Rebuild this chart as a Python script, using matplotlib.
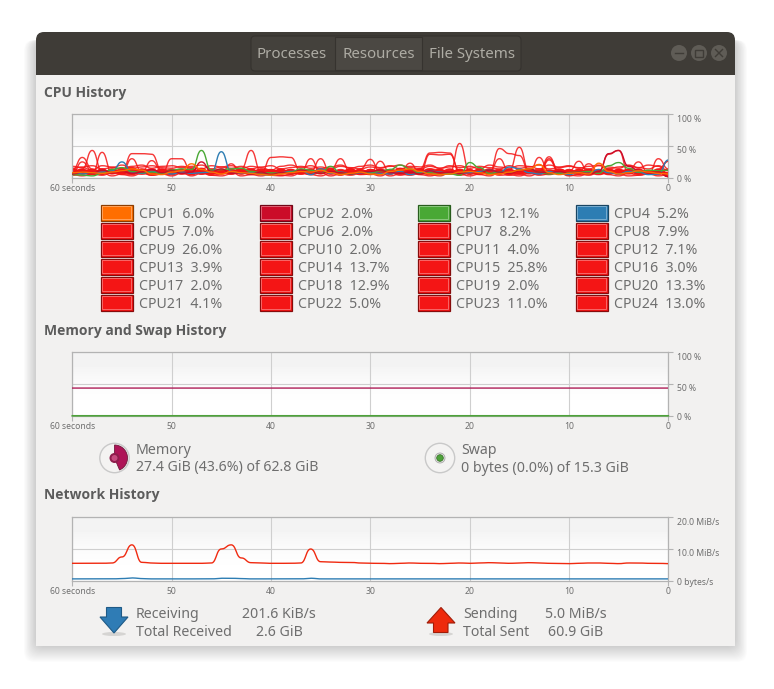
# system monitor resources tab

import numpy as np
import matplotlib
matplotlib.use("Agg")
import matplotlib.pyplot as plt
import matplotlib.transforms as mtransforms
from matplotlib.patches import Circle, Ellipse, FancyBboxPatch, Polygon, Rectangle, Wedge

plt.rcParams["font.family"] = ["Noto Sans", "DejaVu Sans"]

seconds = np.arange(60, -1, -1)
time_ticks = [60, 50, 40, 30, 20, 10, 0]
time_labels = ["60 seconds", "50", "40", "30", "20", "10", "0"]
percent_ticks = [100, 50, 0]
percent_labels = ["100 %", "50 %", "0 %"]
net_ticks = [20, 10, 0]
net_labels = ["20.0 MiB/s", "10.0 MiB/s", "0 bytes/s"]

# one sample per second, oldest first
cpu1 = [8,9,8,7,9,11,14,12,6,5, 9,11,22,13,9,6,10,8,7,5, 4,6,8,10,9,12,8,5,7,9, 6,5,10,12,14,10,6,5,6,9, 10,8,5,6,9,12,14,21,8,5, 7,8,6,23,10,6,8,11,9,7, 6]
cpu2 = [6,9,7,12,8,10,7,9,13,8, 11,7,9,25,10,14,7,8,6,9, 5,8,7,12,9,7,10,8,6,9, 10,12,8,7,9,6,11,8,9,7, 10,8,12,9,7,11,14,9,8,10, 7,9,6,10,38,43,18,12,8,9, 2]
cpu3 = [5,4,3,7,13,16,10,8,9,7, 12,14,13,43,12,13,14,15,10,8, 8,7,9,14,12,7,18,8,6,9, 7,11,13,20,14,7,8,5,6,4, 24,16,7,9,8,12,14,9,6,7, 8,9,10,7,19,24,15,9,12,11, 12]
cpu4 = [7,6,8,9,11,25,9,7,10,8, 6,9,7,8,9,41,10,7,8,5, 4,8,10,12,5,14,7,9,6,8, 9,7,6,10,5,8,11,9,6,7, 8,10,12,9,17,14,8,6,10,7, 5,9,7,13,8,6,10,9,5,6, 28]
cpu5 = [12,32,14,8,9,6,10,13,8,7, 10,7,12,9,6,11,8,14,43,9, 7,10,6,12,9,13,8,5,11,7, 9,12,6,10,8,14,7,11,9,6, 10,13,7,9,12,48,10,6,9,12, 8,6,11,9,7,13,10,6,9,12, 7]
cpu6 = [9,14,43,10,7,12,16,9,6,11, 8,13,9,15,7,10,12,6,9,14, 10,7,13,9,30,8,11,6,14,9, 12,8,6,15,9,7,13,10,8,11, 6,9,14,7,10,12,8,11,33,8, 10,7,13,8,11,6,9,14,7,10, 2]
cpu7 = [14,10,7,40,8,11,15,7,12,9, 6,10,14,8,11,7,13,9,6,12, 8,14,7,10,11,6,12,30,9,7, 13,10,8,6,11,9,14,7,12,8, 9,6,11,13,8,7,10,14,9,6, 12,8,10,7,14,9,6,11,8,13, 8]
cpu8 = [7,11,9,6,14,10,38,38,37,12, 9,12,6,10,8,13,7,11,14,6, 11,8,12,7,9,14,6,10,13,8, 6,11,9,13,7,10,14,12,8,54, 10,7,13,6,11,8,12,9,7,14, 9,11,7,12,6,10,13,8,11,7, 8]
cpu9 = [10,6,12,9,7,15,11,8,13,6, 30,30,9,7,13,10,6,12,8,11, 7,13,9,6,10,8,14,7,11,12, 8,10,6,14,9,12,7,13,6,10, 12,8,9,46,38,35,10,7,12,9, 11,6,13,8,10,7,12,9,6,14, 26]
cpu10 = [13,8,6,11,10,7,13,9,6,12, 8,11,14,6,9,12,7,10,13,7, 32,33,32,10,6,12,8,13,9,7, 11,6,13,8,10,7,12,9,14,6, 9,12,7,10,6,13,8,32,10,7, 13,8,6,11,9,12,7,10,6,11, 2]
cpu11 = [6,12,9,13,7,10,8,12,6,14, 11,7,13,6,10,8,12,9,11,6, 9,12,7,11,8,13,6,10,7,14, 29,9,7,12,6,11,8,13,9,10, 7,14,6,11,9,7,12,10,8,13, 10,26,7,12,9,6,13,8,10,7, 4]
cpu12 = [11,7,13,6,12,9,7,14,10,8, 12,6,9,11,7,13,10,8,6,12, 13,9,6,12,10,30,7,11,8,6, 10,13,8,7,12,6,9,11,7,13, 6,11,9,12,7,10,13,6,11,8, 7,12,9,6,13,8,11,25,7,10, 7]
cpu13 = [8,13,6,10,12,7,11,6,9,13, 7,10,12,8,6,11,9,13,7,10, 6,11,8,13,7,10,9,12,6,8, 12,7,11,9,6,14,39,40,39,8, 11,6,10,7,13,9,6,12,8,10, 6,13,8,11,7,9,12,6,10,8, 4]
cpu14 = [10,9,7,14,6,11,8,13,7,10, 13,9,6,10,12,7,11,6,13,9, 12,6,10,8,13,7,11,9,14,6, 8,12,9,7,13,10,6,12,8,11, 7,10,13,8,6,12,9,7,11,13, 9,7,12,10,37,43,8,11,6,30, 14]
cpu15 = [13,6,10,8,12,9,6,11,14,7, 10,8,13,7,11,6,12,9,7,13, 6,10,12,8,7,11,14,6,9,12, 10,7,13,11,6,9,12,8,7,10, 13,6,8,12,10,7,11,6,28,9, 12,8,11,6,9,13,7,10,8,12, 26]
cpu16 = [7,25,11,6,13,8,30,10,7,12, 9,13,7,11,6,10,8,14,9,6, 11,7,9,13,6,12,8,10,7,11, 6,13,10,8,12,7,11,6,9,13, 8,11,7,10,13,6,9,12,7,10, 11,9,6,13,7,10,8,12,6,9, 3]
cpu17 = [9,12,8,11,7,13,6,10,27,11, 7,11,9,6,13,8,22,7,11,10, 8,12,6,10,13,7,9,11,6,13, 7,10,12,6,9,13,8,7,11,6, 12,9,7,11,6,10,13,8,6,12, 7,10,13,9,6,11,8,12,7,10, 2]
cpu18 = [6,10,13,7,9,12,8,6,11,7, 13,6,10,12,8,7,11,13,6,9, 10,13,7,9,6,12,8,11,7,10, 6,9,12,8,23,7,37,36,37,11, 6,12,8,10,7,13,9,6,12,8, 10,6,12,7,11,9,13,6,10,7, 13]
cpu19 = [11,8,6,12,10,7,13,9,7,11, 8,12,6,9,13,7,10,12,8,6, 12,7,11,6,9,13,7,8,12,10, 7,26,8,11,6,12,9,7,13,8, 12,7,10,30,8,6,11,9,7,12, 8,13,6,10,7,12,9,11,6,8, 2]
cpu20 = [7,13,10,6,11,8,12,7,9,13, 6,11,8,13,7,12,6,10,9,8, 7,10,13,6,11,8,12,7,9,6, 13,8,10,7,12,6,11,9,8,13, 7,9,12,6,10,8,13,7,30,11, 6,10,22,9,12,7,8,13,6,11, 13]
cpu21 = [18,16,12,19,17,14,18,20,15,18, 19,16,18,20,14,17,19,15,18,16, 12,18,20,16,19,14,17,20,15,18, 20,16,19,14,18,17,20,15,19,16, 18,14,20,17,15,19,18,14,20,17, 19,15,18,20,14,17,19,16,20,18, 4]
cpu22 = [4,7,5,8,3,6,5,9,4,6, 5,8,3,7,4,6,9,3,5,7, 4,3,6,8,5,3,7,4,9,5, 6,3,8,4,7,5,3,6,9,4, 7,5,3,8,4,6,3,7,5,8, 3,6,4,9,5,3,7,4,6,3, 5]
cpu23 = [15,17,19,14,16,20,15,17,19,16, 15,18,16,14,19,17,15,18,14,17, 19,14,16,18,15,17,14,18,16,14, 17,15,18,20,16,14,18,15,17,19, 15,18,16,14,19,15,17,20,14,16, 18,16,14,19,17,15,20,16,14,19, 11]
cpu24 = [5,3,6,4,8,5,3,7,4,6, 3,7,5,9,4,3,6,8,5,3, 6,4,3,7,5,8,3,6,4,7, 5,8,3,6,4,7,5,3,8,6, 3,6,8,4,5,3,7,4,6,9, 4,3,7,5,8,6,3,4,7,5, 13]

red_series = [cpu5, cpu6, cpu7, cpu8, cpu9, cpu10, cpu11, cpu12, cpu13, cpu14, cpu15, cpu16,
              cpu17, cpu18, cpu19, cpu20, cpu21, cpu22, cpu23, cpu24]

cpu_percent = ["6.0", "2.0", "12.1", "5.2", "7.0", "2.0", "8.2", "7.9", "26.0", "2.0", "4.0", "7.1",
               "3.9", "13.7", "25.8", "3.0", "2.0", "12.9", "2.0", "13.3", "4.1", "5.0", "11.0", "13.0"]

memory_used = [43.6] * 61
swap_used = [0.0] * 61

sending = [5.5,5.5,5.5,5.5,5.6,7.5,11.3,5.8,5.6,5.5, 5.5,5.5,5.5,5.5,5.6,10.0,11.3,7.2,5.7,5.6,
           5.5,5.5,5.5,5.6,10.0,6.0,5.9,5.8,5.8,5.6, 5.5,5.5,5.4,5.5,5.6,5.5,5.5,5.4,5.5,5.6,
           5.5,5.6,5.7,5.6,5.5,5.6,5.7,5.6,5.5,5.5, 5.4,5.5,5.6,5.6,5.5,5.4,5.6,5.6,5.5,5.5, 5.4]
receiving = [0.6,0.6,0.6,0.6,0.6,0.7,0.9,0.7,0.6,0.6, 0.6,0.6,0.6,0.6,0.6,0.8,0.8,0.7,0.6,0.6,
             0.6,0.6,0.6,0.6,0.8,0.6,0.6,0.6,0.6,0.6, 0.6,0.6,0.6,0.6,0.6,0.6,0.6,0.6,0.6,0.6,
             0.6,0.6,0.6,0.6,0.6,0.6,0.6,0.6,0.6,0.6, 0.6,0.6,0.6,0.6,0.6,0.6,0.6,0.6,0.6,0.6, 0.6]

ORANGE = "#ff6e00"
CRIMSON = "#cb0c29"
GREEN = "#49a835"
BLUE = "#2d7db3"
RED = "#f41515"
TEXT = "#6e6e6e"
cpu_colors = [ORANGE, CRIMSON, GREEN, BLUE] + [RED] * 20

W, H = 774, 689
FS = 10.2


def smooth(values):
	# bezier between samples with both control points half way across, as the applet does
	values = np.array(values, dtype=float)
	u = np.linspace(0, 1, 24, endpoint=False)
	across = 1.5 * (1 - u) ** 2 * u + 1.5 * (1 - u) * u ** 2 + u ** 3
	up = 3 * (1 - u) * u ** 2 + u ** 3
	xs, ys = [], []
	for i in range(len(values) - 1):
		xs.append(seconds[i] - across)
		ys.append(values[i] + (values[i + 1] - values[i]) * up)
	xs.append([seconds[-1]])
	ys.append([values[-1]])
	return np.concatenate(xs), np.concatenate(ys)


def graph(fig, top, labels, ticks, ymax):
	ax = fig.add_axes([72.3 / W, 1 - (top + 63.6) / H, 596 / W, 63.6 / H])
	ax.imshow([[0.95], [0.985], [1.0]], cmap="gray", vmin=0, vmax=1, aspect="auto",
		extent=[60, 0, 0, ymax], interpolation="bilinear", zorder=0)
	ax.set_xlim(60, 0)
	ax.set_ylim(0, ymax)
	ax.set_xticks(time_ticks, time_labels)
	ax.yaxis.tick_right()
	ax.set_yticks(ticks, labels)
	ax.grid(True, color="#cfcfcf", lw=0.8, zorder=1)
	ax.tick_params(axis="x", length=3.6, width=0.8, color="#b3b3b3", pad=0.8, labelsize=6.2, labelcolor=TEXT)
	ax.tick_params(axis="y", length=3.6, width=0.8, color="#b3b3b3", pad=2.5, labelsize=6.2, labelcolor=TEXT)
	for tick in ax.xaxis.get_major_ticks()[1:-1]:
		tick.tick1line.set_visible(False)
	# labels sit a little under their ticks in the applet
	for label, va, dy in zip(ax.get_yticklabels(), ["top", "top", "center"], [-1, 0, -2]):
		label.set_verticalalignment(va)
		label.set_transform(label.get_transform() + mtransforms.Affine2D().translate(0, dy))
	for spine in ax.spines.values():
		spine.set_color("#b3b3b3")
		spine.set_linewidth(0.9)
	return ax


def rounded(bg, x0, y0, x1, y1, r, **kw):
	bg.add_patch(FancyBboxPatch((x0 + r, y0 + r), x1 - x0 - 2 * r, y1 - y0 - 2 * r,
		boxstyle="round,pad=%f,rounding_size=%f" % (r, r), **kw))


fig = plt.figure(figsize=(W / 100, H / 100), dpi=100, facecolor="white")
bg = fig.add_axes([0, 0, 1, 1])
bg.set_xlim(0, W)
bg.set_ylim(H, 0)
bg.axis("off")

# window, shadow first
for grow in range(16, 0, -1):
	rounded(bg, 36 - grow * 0.75, 40, 735 + grow * 0.75, 646 + grow, 10, fc="black", ec="none", alpha=0.012)
rounded(bg, 36, 32, 735, 100, 8, fc="#3f3c37", ec="none")
bg.add_patch(Rectangle((36, 75), 699, 571, fc="#f2f1f0", ec="none"))

# tabs
rounded(bg, 251, 36, 521, 71, 4, fc="#44413c", ec="#36332f", lw=0.8)
bg.add_patch(Rectangle((335, 37), 87, 33, fc="#4b4843", ec="#36332f", lw=0.8))
for x, name in [(292, "Processes"), (378.5, "Resources"), (472, "File Systems")]:
	bg.text(x, 55, name, color="#aeaca4", fontsize=10.8, ha="center", va="center")

# window buttons
for x in [679, 699, 719]:
	bg.add_patch(Circle((x, 53), 8, fc="#5f5c56", ec="none"))
bg.plot([675, 683], [53, 53], color="#3f3c37", lw=1)
bg.add_patch(Rectangle((695, 49.5), 8, 7, fc="none", ec="#3f3c37", lw=1))
bg.plot([715.5, 722.5], [49.5, 56.5], color="#3f3c37", lw=1)
bg.plot([715.5, 722.5], [56.5, 49.5], color="#3f3c37", lw=1)

for y, name in [(93, "CPU History"), (331, "Memory and Swap History"), (495, "Network History")]:
	bg.text(44, y, name, color="#5c5c5c", family=["Open Sans", "DejaVu Sans"], fontsize=10, fontweight="bold", va="center")

# cpu graph
ax = graph(fig, 114.2, percent_labels, percent_ticks, 100)
for series in red_series:
	x, y = smooth(series)
	ax.plot(x, y, color=RED, lw=1.0, alpha=0.85, zorder=2)
for series, color in [(cpu4, BLUE), (cpu3, GREEN), (cpu2, CRIMSON), (cpu1, ORANGE)]:
	x, y = smooth(series)
	ax.plot(x, y, color=color, lw=1.0, zorder=3)

# cpu legend
col_x = [101, 260, 418, 576]
for i in range(24):
	row, col = i // 4, i % 4
	x = col_x[col]
	y = 204.5 + row * 18
	c = cpu_colors[i]
	dark = tuple(0.55 * v for v in matplotlib.colors.to_rgb(c))
	light = tuple(v + 0.35 * (1 - v) for v in matplotlib.colors.to_rgb(c))
	bg.add_patch(Rectangle((x, y), 31.5, 16, fc=c, ec=dark, lw=0.9))
	bg.add_patch(Rectangle((x + 1.3, y + 1.3), 28.9, 13.4, fc="none", ec=light, lw=0.7))
	bg.text(x + 38, y + 9.7, "CPU%d  %s%%" % (i + 1, cpu_percent[i]), color=TEXT, fontsize=FS, va="center")

# memory graph
ax = graph(fig, 352.2, percent_labels, percent_ticks, 100)
x, y = smooth(memory_used)
ax.plot(x, y, color="#ae1f58", lw=1.0, zorder=3)
x, y = smooth(swap_used)
ax.plot(x, y, color="#4ea23a", lw=1.2, zorder=3, clip_on=False)

# memory and swap icons
bg.add_patch(Circle((114.5, 458), 14.7, fc="#f4f3f2", ec="#c9c9c9", lw=1))
bg.add_patch(Wedge((114.5, 458), 13, -90, 67, fc="#ae1457", ec="#6f1a3c", lw=0.6))
bg.add_patch(Circle((114.5, 458), 5, fc="#8e1d4c", ec="none"))
bg.add_patch(Circle((114.5, 458), 3, fc="#c64c80", ec="none"))
bg.add_patch(Circle((440, 458), 14.7, fc="#f4f3f2", ec="#c9c9c9", lw=1))
bg.add_patch(Circle((440, 458), 5, fc="#e6e5e3", ec="#a8a8a8", lw=0.6))
bg.add_patch(Circle((440, 458), 3.3, fc="#4ea23a", ec="#2f6b20", lw=0.5))
bg.text(136, 451, "Memory", color=TEXT, fontsize=FS, va="center")
bg.text(136, 468, "27.4 GiB (43.6%) of 62.8 GiB", color=TEXT, fontsize=FS, va="center")
bg.text(461, 451, "Swap", color=TEXT, fontsize=FS, va="center")
bg.text(461, 468, "0 bytes (0.0%) of 15.3 GiB", color=TEXT, fontsize=FS, va="center")

# network graph
ax = graph(fig, 517.2, net_labels, net_ticks, 20)
x, y = smooth(receiving)
ax.plot(x, y, color=BLUE, lw=1.0, zorder=3)
x, y = smooth(sending)
ax.plot(x, y, color="#f02a10", lw=1.0, zorder=3)

# arrows
bg.add_patch(Ellipse((114, 634), 24, 4, fc="#d5d4d2", ec="none"))
bg.add_patch(Polygon([(106.5, 607.5), (121.5, 607.5), (121.5, 617), (128, 617), (114, 633), (100, 617), (106.5, 617)],
	fc="#2f7cb5", ec="#1f5a86", lw=0.8))
bg.add_patch(Ellipse((441, 634), 24, 4, fc="#d5d4d2", ec="none"))
bg.add_patch(Polygon([(441, 607.5), (455, 623), (448, 623), (448, 632.5), (433.5, 632.5), (433.5, 623), (427, 623)],
	fc="#ee2a0c", ec="#a01c08", lw=0.8))

bg.text(136, 615, "Receiving", color=TEXT, fontsize=FS, va="center")
bg.text(136, 632, "Total Received", color=TEXT, fontsize=FS, va="center")
bg.text(279, 615, "201.6 KiB/s", color=TEXT, fontsize=FS, va="center", ha="center")
bg.text(279, 632, "2.6 GiB", color=TEXT, fontsize=FS, va="center", ha="center")
bg.text(463, 615, "Sending", color=TEXT, fontsize=FS, va="center")
bg.text(463, 632, "Total Sent", color=TEXT, fontsize=FS, va="center")
bg.text(576, 615, "5.0 MiB/s", color=TEXT, fontsize=FS, va="center", ha="center")
bg.text(576, 632, "60.9 GiB", color=TEXT, fontsize=FS, va="center", ha="center")

fig.savefig("out.png", dpi=100)
